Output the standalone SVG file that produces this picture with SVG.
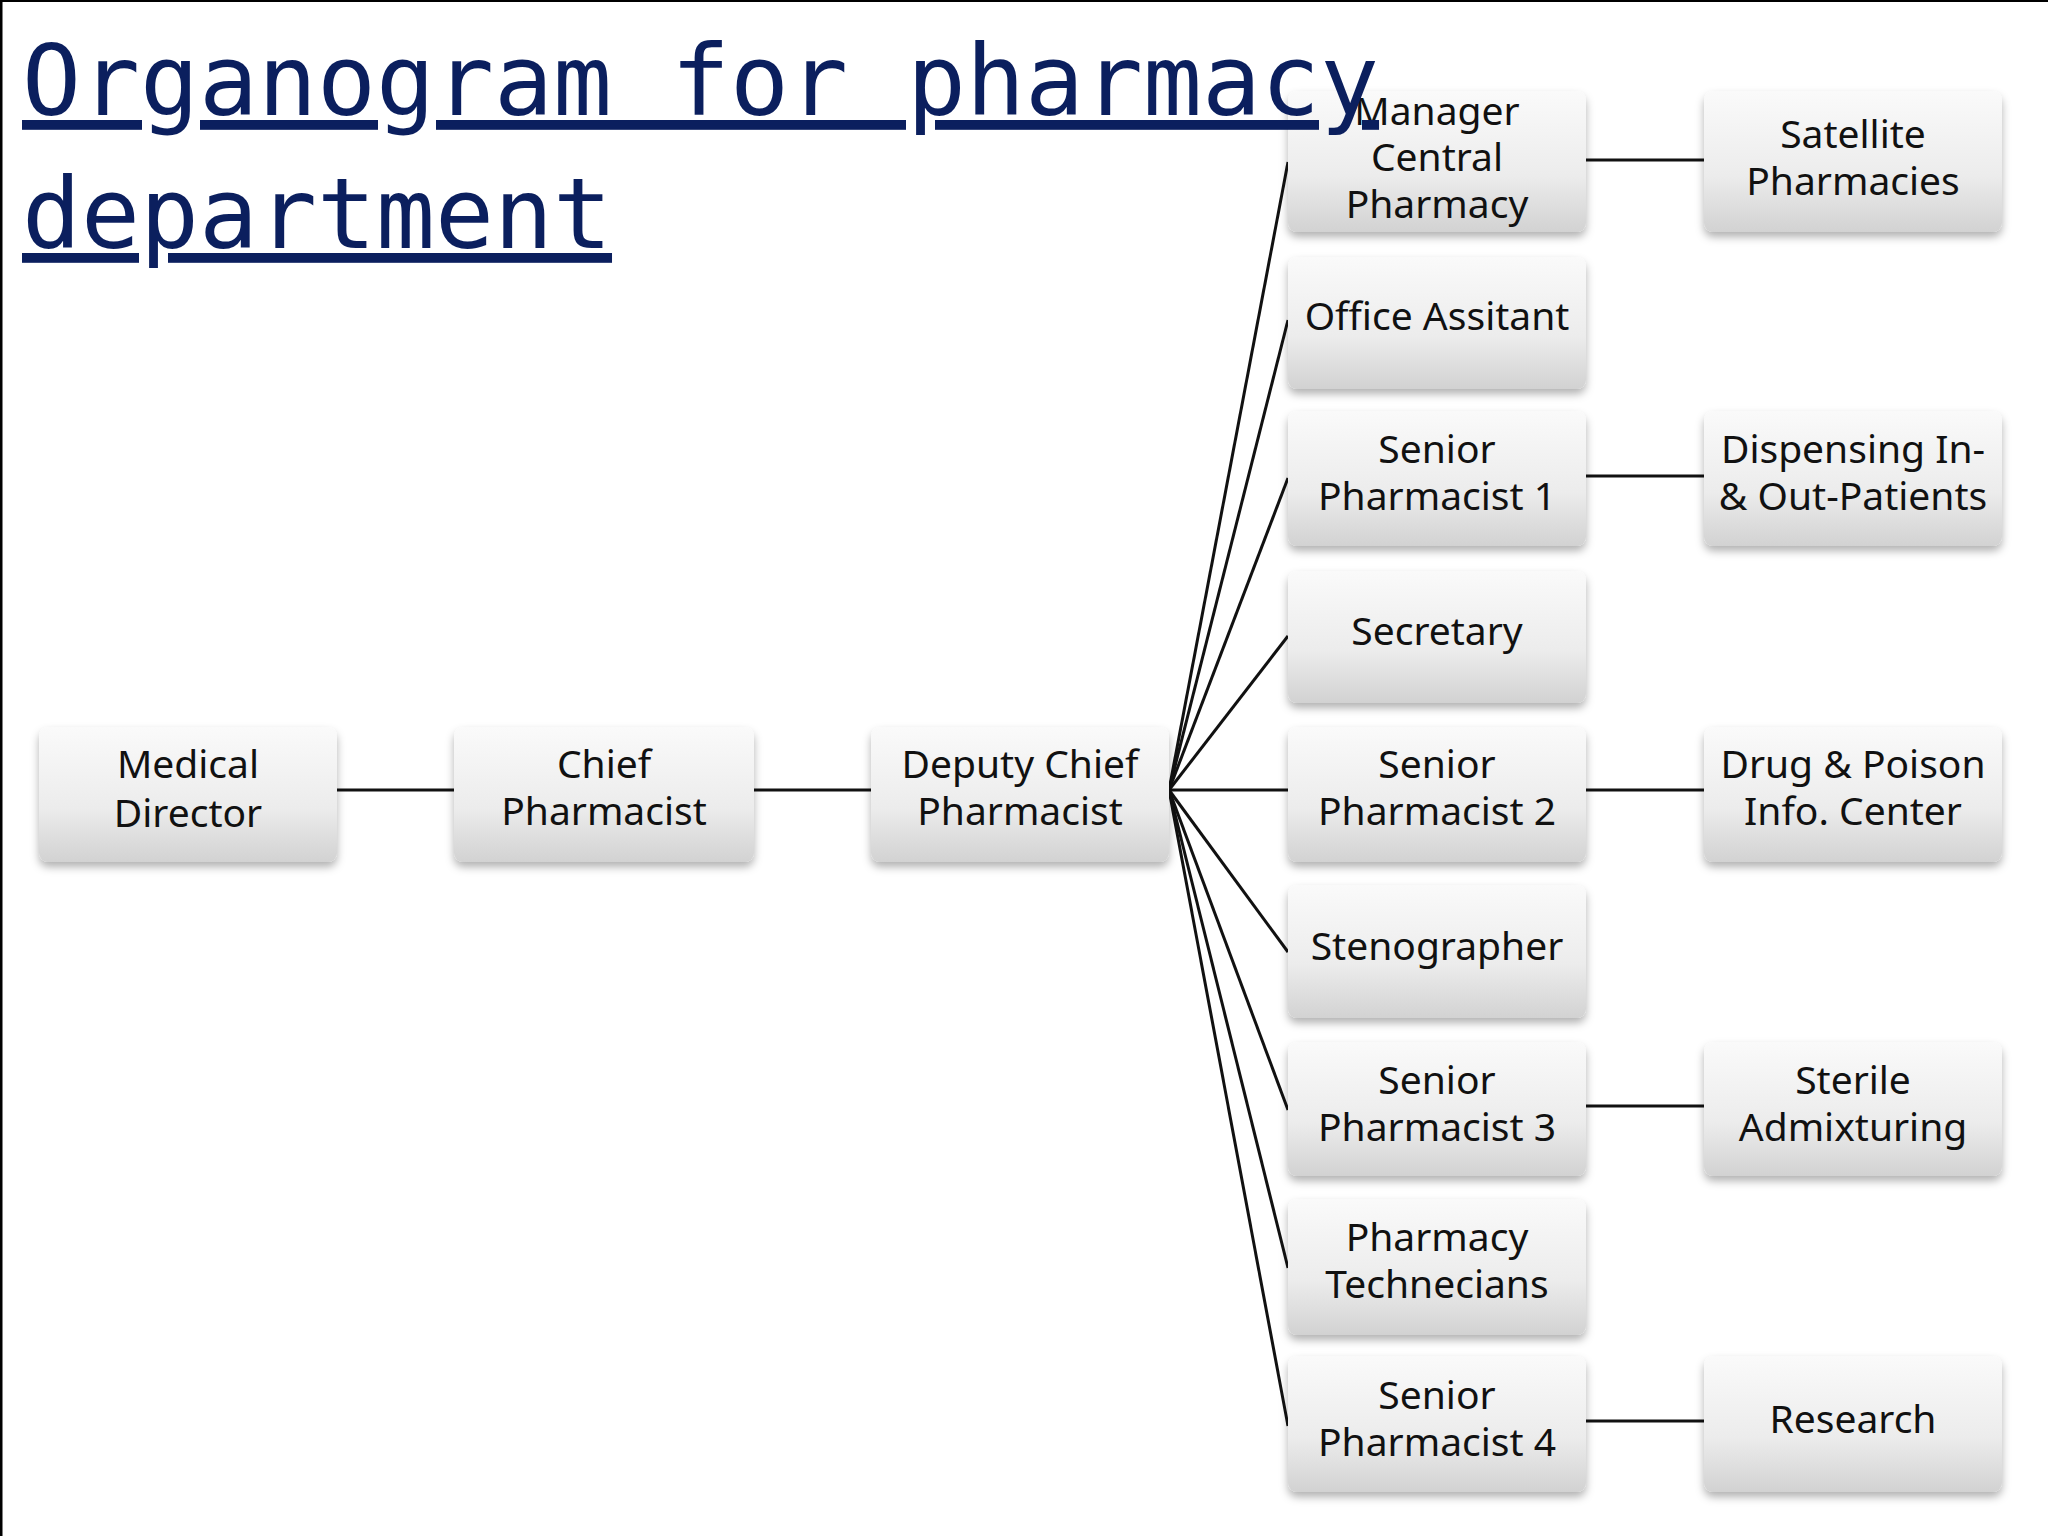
<svg xmlns="http://www.w3.org/2000/svg" width="2048" height="1536" viewBox="0 0 2048 1536">
<defs>
<linearGradient id="g" x1="0" y1="0" x2="0" y2="1">
<stop offset="0" stop-color="#fafafa"/><stop offset="0.6" stop-color="#ececec"/><stop offset="1" stop-color="#d2d2d2"/>
</linearGradient>
<filter id="sh" x="-10%" y="-10%" width="120%" height="130%"><feDropShadow dx="0" dy="5" stdDeviation="4" flood-color="#000" flood-opacity="0.3"/></filter>
</defs>
<style>
.b{fill:url(#g);filter:url(#sh)}
.t{font-family:"Noto Sans","Open Sans",sans-serif;font-size:39px;fill:#111;text-anchor:middle}
.c line{stroke:#111;stroke-width:3}
.title{font-family:"DejaVu Sans Mono","Liberation Mono",monospace;font-size:98px;fill:#0b1f5e;text-decoration:underline}
</style>
<rect width="2048" height="1536" fill="#fff"/>
<line x1="1" y1="0" x2="1" y2="1536" stroke="#000" stroke-width="3"/>
<line x1="0" y1="1" x2="2048" y2="1" stroke="#000" stroke-width="2"/>
<g class="c">
<line x1="337" y1="790" x2="454" y2="790"/>
<line x1="754" y1="790" x2="871" y2="790"/>
<line x1="1169" y1="790" x2="1288" y2="162"/>
<line x1="1169" y1="790" x2="1288" y2="320"/>
<line x1="1169" y1="790" x2="1288" y2="478"/>
<line x1="1169" y1="790" x2="1288" y2="636"/>
<line x1="1169" y1="790" x2="1288" y2="790"/>
<line x1="1169" y1="790" x2="1288" y2="952"/>
<line x1="1169" y1="790" x2="1288" y2="1110"/>
<line x1="1169" y1="790" x2="1288" y2="1268"/>
<line x1="1169" y1="790" x2="1288" y2="1426"/>
<line x1="1586" y1="160" x2="1704" y2="160"/>
<line x1="1586" y1="476" x2="1704" y2="476"/>
<line x1="1586" y1="790" x2="1704" y2="790"/>
<line x1="1586" y1="1106" x2="1704" y2="1106"/>
<line x1="1586" y1="1421" x2="1704" y2="1421"/>
</g>
<g id="md"><rect class="b" x="39" y="727" width="298" height="135" rx="9"/><text class="t" x="188" y="778">Medical</text><text class="t" x="188" y="827">Director</text></g>
<g id="cp"><rect class="b" x="454" y="727" width="300" height="135" rx="9"/><text class="t" x="604" y="778">Chief</text><text class="t" x="604" y="825">Pharmacist</text></g>
<g id="dcp"><rect class="b" x="871" y="727" width="298" height="135" rx="9"/><text class="t" x="1020" y="778">Deputy Chief</text><text class="t" x="1020" y="825">Pharmacist</text></g>
<g id="mcp"><rect class="b" x="1288" y="91" width="298" height="141" rx="9"/><text class="t" x="1437" y="125">Manager</text><text class="t" x="1437" y="171">Central</text><text class="t" x="1437" y="218">Pharmacy</text></g>
<g id="oa"><rect class="b" x="1288" y="257" width="298" height="132" rx="9"/><text class="t" x="1437" y="330">Office Assitant</text></g>
<g id="sp1"><rect class="b" x="1288" y="411" width="298" height="135" rx="9"/><text class="t" x="1437" y="463">Senior</text><text class="t" x="1437" y="510">Pharmacist 1</text></g>
<g id="sec"><rect class="b" x="1288" y="571" width="298" height="132" rx="9"/><text class="t" x="1437" y="645">Secretary</text></g>
<g id="sp2"><rect class="b" x="1288" y="727" width="298" height="135" rx="9"/><text class="t" x="1437" y="778">Senior</text><text class="t" x="1437" y="825">Pharmacist 2</text></g>
<g id="st"><rect class="b" x="1288" y="885" width="298" height="133" rx="9"/><text class="t" x="1437" y="960">Stenographer</text></g>
<g id="sp3"><rect class="b" x="1288" y="1042" width="298" height="134" rx="9"/><text class="t" x="1437" y="1094">Senior</text><text class="t" x="1437" y="1141">Pharmacist 3</text></g>
<g id="pt"><rect class="b" x="1288" y="1199" width="298" height="136" rx="9"/><text class="t" x="1437" y="1251">Pharmacy</text><text class="t" x="1437" y="1298">Technecians</text></g>
<g id="sp4"><rect class="b" x="1288" y="1356" width="298" height="136" rx="9"/><text class="t" x="1437" y="1409">Senior</text><text class="t" x="1437" y="1456">Pharmacist 4</text></g>
<g id="sat"><rect class="b" x="1704" y="91" width="298" height="141" rx="9"/><text class="t" x="1853" y="148">Satellite</text><text class="t" x="1853" y="195">Pharmacies</text></g>
<g id="dis"><rect class="b" x="1704" y="411" width="298" height="135" rx="9"/><text class="t" x="1853" y="463">Dispensing In-</text><text class="t" x="1853" y="510">&amp; Out-Patients</text></g>
<g id="dpi"><rect class="b" x="1704" y="727" width="298" height="135" rx="9"/><text class="t" x="1853" y="778">Drug &amp; Poison</text><text class="t" x="1853" y="825">Info. Center</text></g>
<g id="sa"><rect class="b" x="1704" y="1042" width="298" height="134" rx="9"/><text class="t" x="1853" y="1094">Sterile</text><text class="t" x="1853" y="1141">Admixturing</text></g>
<g id="res"><rect class="b" x="1704" y="1356" width="298" height="136" rx="9"/><text class="t" x="1853" y="1433">Research</text></g>
<g id="title"><text class="title" x="22" y="115">Organogram for pharmacy</text><text class="title" x="22" y="248">department</text></g>
</svg>
